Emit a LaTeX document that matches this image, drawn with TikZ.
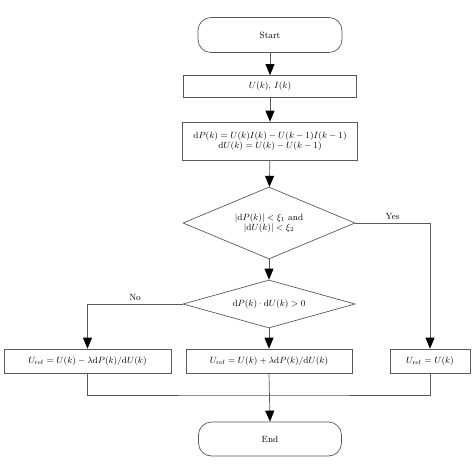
\documentclass[tikz,border=0pt]{standalone}
\usepackage{amsmath,amssymb}
\usepackage{xcolor}
\usepackage{tikz}
\usetikzlibrary{positioning,arrows.meta,calc,shapes.geometric}

\begin{document}
\begin{tikzpicture}[x=1pt, y=-1pt,
    >={Triangle[length=11pt,width=9pt,color=black]},
    every node/.style={font=\small, align=center},
    line/.style={draw=black!65, line width=0.7pt},
    term/.style={line, rounded corners=13pt, minimum width=144pt, minimum height=35pt},
    proc/.style={line, minimum height=22pt, inner sep=2pt},
    test/.style={line, diamond, inner sep=0pt}]
  \useasboundingbox (0,0) rectangle (474,474);

  \node[term] (start) at (270,35) {Start};
  \node[proc, minimum width=173pt] (input) at (270,86.5) {$U(k)$, $I(k)$};
  \node[proc, minimum width=175pt, minimum height=38pt] (calc) at (270,141)
      {$\mathrm{d}P(k) = U(k)I(k) - U(k-1)I(k-1)$\\[-1pt]
       $\mathrm{d}U(k) = U(k) - U(k-1)$};
  \node[test, aspect=2.39, minimum width=172pt, minimum height=72pt] (conv) at (269,223)
      {$|\mathrm{d}P(k)| < \xi_1$ and\\[-1pt] $|\mathrm{d}U(k)| < \xi_2$};
  \node[test, aspect=3.58, minimum width=172pt, minimum height=48pt] (sign) at (269,304)
      {$\mathrm{d}P(k)\cdot\mathrm{d}U(k) > 0$};

  \node[proc, minimum width=167pt, minimum height=24pt] (down) at (87.5,361)
      {$U_{\mathrm{ref}} = U(k) - \lambda\mathrm{d}P(k)/\mathrm{d}U(k)$};
  \node[proc, minimum width=166pt, minimum height=24pt] (up) at (269,361)
      {$U_{\mathrm{ref}} = U(k) + \lambda\mathrm{d}P(k)/\mathrm{d}U(k)$};
  \node[proc, minimum width=80pt, minimum height=24pt] (hold) at (430,361)
      {$U_{\mathrm{ref}} = U(k)$};

  \node[term, minimum width=143pt, minimum height=34pt] (stop) at (270,439) {End};
  \coordinate (join) at (269,395);

  \draw[line, ->] (start) -- (input);
  \draw[line, ->] (input) -- (calc);
  \draw[line, ->] (calc) -- (conv);
  \draw[line, ->] (conv) -- (sign);
  \draw[line, ->] (sign) -- (up);
  \draw[line, ->] (conv.east) -| node[pos=0.25, above] {Yes} (hold.north);
  \draw[line, ->] (sign.west) -| node[pos=0.25, above] {No} (down.north);

  \draw[line] (down.south) |- (join) -| (hold.south);
  \draw[line, ->] (up.south) -- (stop.north);
\end{tikzpicture}
\end{document}
